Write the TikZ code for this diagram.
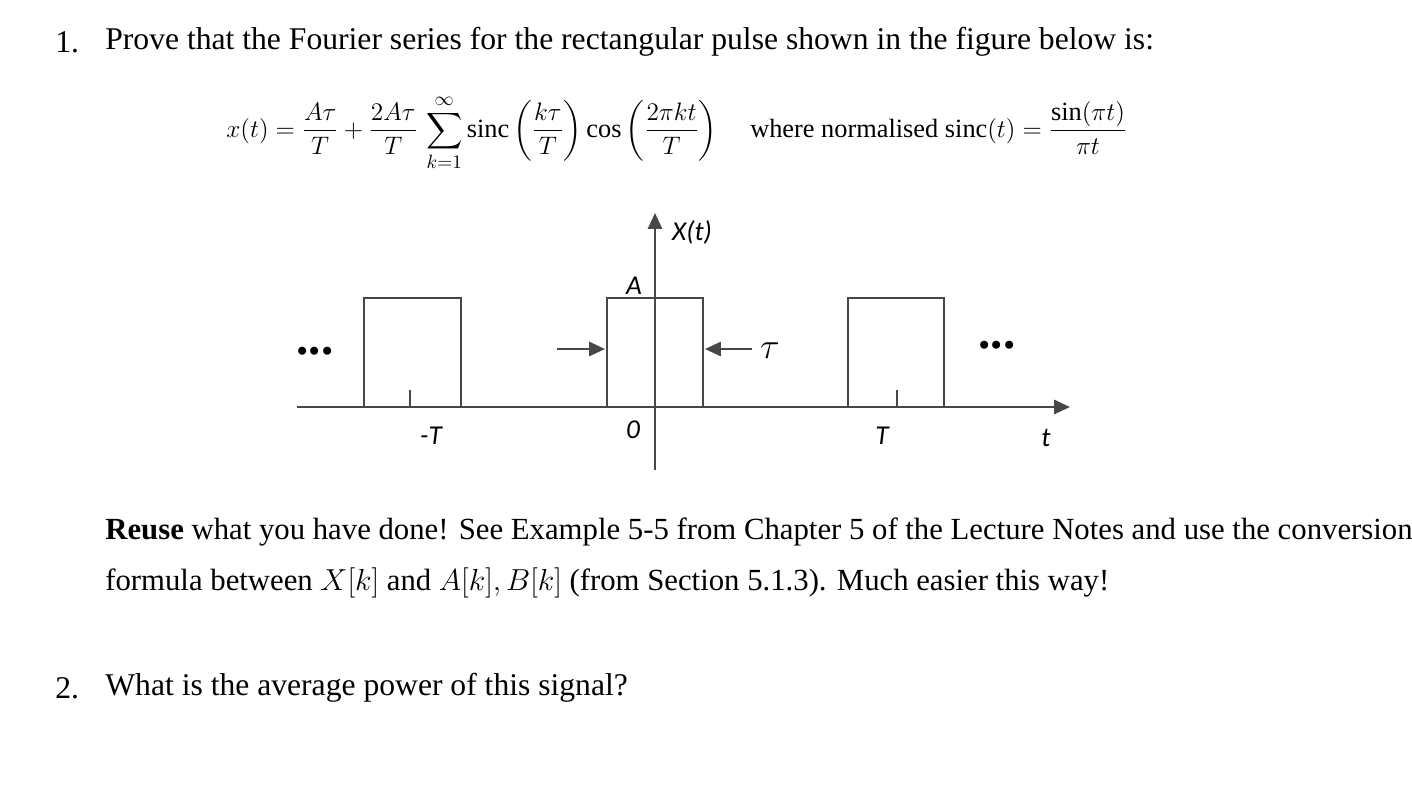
\documentclass[tikz,border=0pt]{standalone}
\usepackage{amsmath}
\usepackage{fontspec}
\setmainfont{Liberation Serif}
\newfontfamily\lblfont{Carlito}
\usetikzlibrary{arrows.meta}
\begin{document}
\begin{tikzpicture}[x=0.02cm,y=-0.02cm,
  txt/.style={anchor=west,inner sep=0pt,font=\fontsize{18}{20}\selectfont},
  ln/.style={draw=black!72,line width=1.4pt},
  arr/.style={ln,-{Triangle[length=9pt,width=8pt]}},
  lbl/.style={inner sep=0pt,font=\lblfont\itshape\fontsize{15.5}{17}\selectfont}]
\useasboundingbox (0,0) rectangle (1412,798);
\node[txt] (n1) at (55,42) {1.};
\node[txt] (q1) at (105,42) {Prove that the Fourier series for the rectangular pulse shown in the figure below is:};
\node[anchor=west,inner sep=0pt,font=\fontsize{15}{17}\selectfont] (eq) at (226,133)
 {$x(t)=\dfrac{A\tau}{T}+\dfrac{2A\tau}{T}\,\displaystyle\sum_{k=1}^{\infty}\mathrm{sinc}\left(\frac{k\tau}{T}\right)\cos\left(\frac{2\pi kt}{T}\right)$\quad\ where normalised $\mathrm{sinc}(t)=\dfrac{\sin(\pi t)}{\pi t}$};
% axes
\coordinate (h0) at (297,407); \coordinate (h1) at (1070,407);
\coordinate (v0) at (655,470); \coordinate (v1) at (655,213);
\draw[arr] (h0) -- (h1);
\draw[arr] (v0) -- (v1);
% pulses
\draw[ln] (364,407) -- (364,298) -- (461,298) -- (461,407);
\draw[ln] (607,407) -- (607,298) -- (703,298) -- (703,407);
\draw[ln] (848,407) -- (848,298) -- (944,298) -- (944,407);
\draw[ln] (410,390) -- (410,407);
\draw[ln] (897,390) -- (897,407);
% width arrows
\coordinate (a0) at (557,349); \coordinate (a1) at (605,349);
\coordinate (b0) at (752,349); \coordinate (b1) at (705,349);
\draw[arr] (a0) -- (a1);
\draw[arr] (b0) -- (b1);
\node[inner sep=0pt,font=\fontsize{22}{24}\selectfont] (tau) at (770,351) {$\tau$};
\node[lbl] (xt) at (692,232) {X(t)};
\node[lbl] (A) at (634,286) {A};
\node[lbl] (mT) at (431,436) {-T};
\node[lbl] (z) at (633,430) {0};
\node[lbl] (T) at (882,436) {T};
\node[lbl] (t) at (1046,438) {t};
\node[inner sep=0pt,font=\bfseries\fontsize{28}{28}\selectfont] (d1) at (315,351) {...};
\node[inner sep=0pt,font=\bfseries\fontsize{28}{28}\selectfont] (d2) at (997,345) {...};
\node[txt,font=\fontsize{17.5}{20}\selectfont] (r1) at (105,532) {\textbf{Reuse} what you have done! See Example 5-5 from Chapter 5 of the Lecture Notes and use the conversion};
\node[txt,font=\fontsize{17.5}{20}\selectfont] (r2) at (105,583) {formula between $X[k]$ and $A[k], B[k]$ (from Section 5.1.3). Much easier this way!};
\node[txt] (n2) at (55,688) {2.};
\node[txt] (q2) at (105,688) {What is the average power of this signal?};
\end{tikzpicture}
\end{document}
